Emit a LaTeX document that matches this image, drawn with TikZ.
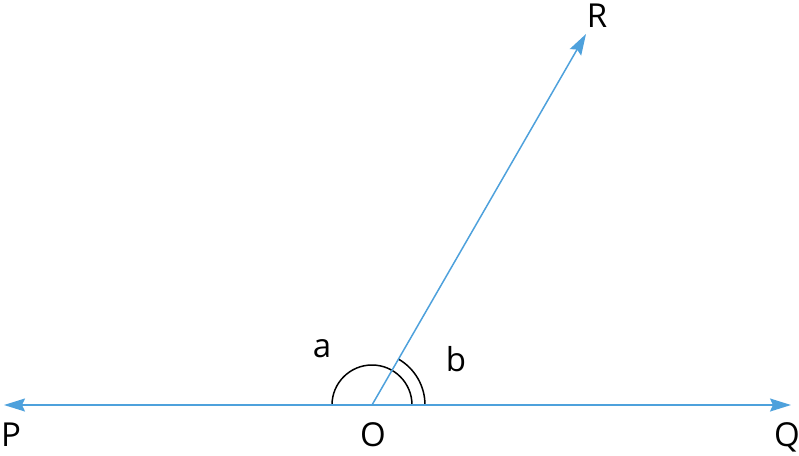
\documentclass[tikz,border=0pt]{standalone}
\usepackage{fontspec}
\setmainfont{Open Sans}
\usetikzlibrary{arrows.meta}
\definecolor{rayblue}{RGB}{78,161,220}
\begin{document}
\begin{tikzpicture}[x=1pt,y=-1pt,
  ray/.style={rayblue,line width=1.5pt,-{Stealth[length=21pt,width=13pt,inset=3pt]}},
  anglearc/.style={black,line width=1.5pt},
  lbl/.style={font=\fontsize{33}{40}\selectfont,inner sep=0pt}]
\useasboundingbox (0,0) rectangle (799,455);
\coordinate (O) at (372,405);
\coordinate (P) at (4,405);
\coordinate (Q) at (791,405);
\coordinate (R) at (586,34);
\draw[anglearc] ([xshift=40pt]O) arc[start angle=0,end angle=180,radius=40pt];
\draw[anglearc] ([xshift=53pt]O) arc[start angle=0,end angle=60,radius=53pt];
\draw[ray] (O) -- (P);
\draw[ray] (O) -- (Q);
\draw[ray] (O) -- (R);
\node[lbl] (lP) at (11,435) {P};
\node[lbl] (lO) at (373,435) {O};
\node[lbl] (lQ) at (787,437) {Q};
\node[lbl] (lR) at (597,16) {R};
\node[lbl] (la) at (322,349) {a};
\node[lbl] (lb) at (456,359) {b};
\end{tikzpicture}
\end{document}
